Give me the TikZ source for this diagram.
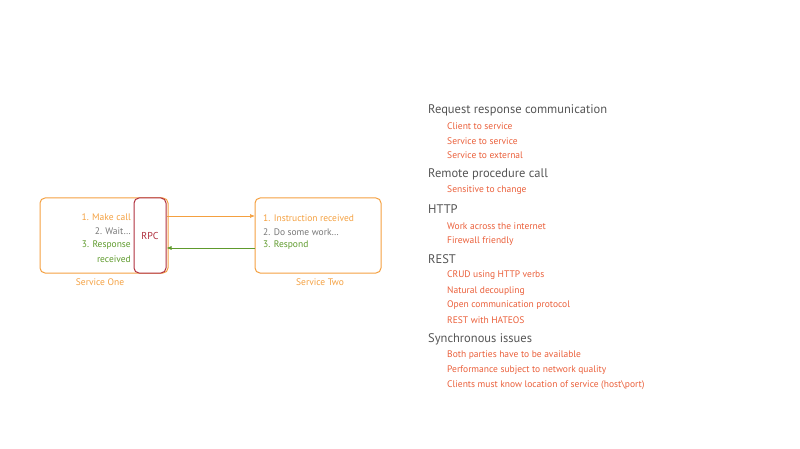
\documentclass[tikz,border=0pt]{standalone}
\usepackage{fontspec}
\setmainfont{PT Sans}
\usetikzlibrary{arrows.meta}
\definecolor{sorange}{HTML}{F4A040}
\definecolor{sred}{HTML}{EA5F3A}
\definecolor{sgray}{HTML}{555555}
\definecolor{lgray}{HTML}{777777}
\definecolor{sgreen}{HTML}{5E9A2C}
\definecolor{rpcred}{HTML}{B0303E}
\tikzset{
 svc/.style={draw=sorange,line width=1pt,rounded corners=5pt},
 rpcbox/.style={draw=rpcred,fill=white,line width=1pt,rounded corners=5pt},
 lbl/.style={font=\fontsize{9.5}{11}\selectfont,inner sep=0pt},
 head/.style={font=\fontsize{12.5}{14}\selectfont,text=sgray,anchor=west,inner sep=0pt},
 item/.style={font=\fontsize{9.5}{11}\selectfont,text=sred,anchor=west,inner sep=0pt},
 arr/.style={-{Latex[length=5pt,width=4pt]},line width=0.7pt}
}
\begin{document}
\begin{tikzpicture}[x=1pt,y=-1pt]
\useasboundingbox (0,0) rectangle (800,449);
\draw[svc] (40,198) rectangle (168,273);
\draw[svc] (255,198) rectangle (381,273);
\node[rpcbox,minimum width=32pt,minimum height=75pt,font=\fontsize{10}{12}\selectfont,text=rpcred] (rpc) at (150,235.5) {RPC};
\node (s2) at (255,235.5) {};
\coordinate (a1) at (rpc.east |- 0,216);
\coordinate (a2) at (255,216);
\coordinate (b1) at (255,248);
\coordinate (b2) at (rpc.east |- 0,248);
\draw[arr,sorange] (a1) -- (a2);
\draw[arr,sgreen] (b1) -- (b2);
\node[lbl,anchor=east,text=sorange] (l1) at (131,217) {1. Make call};
\node[lbl,anchor=east,text=lgray] (l2) at (131,231) {2. Wait…};
\node[lbl,anchor=east,text=sgreen] (l3) at (131,245) {3. Response};
\node[lbl,anchor=east,text=sgreen] (l4) at (131,259) {received};
\node[lbl,anchor=west,text=sorange] (r1) at (263,218) {1. Instruction received};
\node[lbl,anchor=west,text=lgray] (r2) at (263,232) {2. Do some work…};
\node[lbl,anchor=west,text=sgreen] (r3) at (263,245) {3. Respond};
\node[lbl,text=sorange] (n1) at (100,282) {Service One};
\node[lbl,text=sorange] (n2) at (320,282) {Service Two};
\node[head] (h1) at (428,110) {Request response communication};
\node[item] (i1) at (447,126) {Client to service};
\node[item] (i2) at (447,141) {Service to service};
\node[item] (i3) at (447,155) {Service to external};
\node[head] (h2) at (428,174) {Remote procedure call};
\node[item] (i4) at (447,190) {Sensitive to change};
\node[head] (h3) at (428,209) {HTTP};
\node[item] (i5) at (447,226) {Work across the internet};
\node[item] (i6) at (447,241) {Firewall friendly};
\node[head] (h4) at (428,259) {REST};
\node[item] (i7) at (447,275) {CRUD using HTTP verbs};
\node[item] (i8) at (447,291) {Natural decoupling};
\node[item] (i9) at (447,305) {Open communication protocol};
\node[item] (i10) at (447,320) {REST with HATEOS};
\node[head] (h5) at (428,339) {Synchronous issues};
\node[item] (i11) at (447,355) {Both parties have to be available};
\node[item] (i12) at (447,370) {Performance subject to network quality};
\node[item] (i13) at (447,385) {Clients must know location of service (host\textbackslash port)};
\end{tikzpicture}
\end{document}
